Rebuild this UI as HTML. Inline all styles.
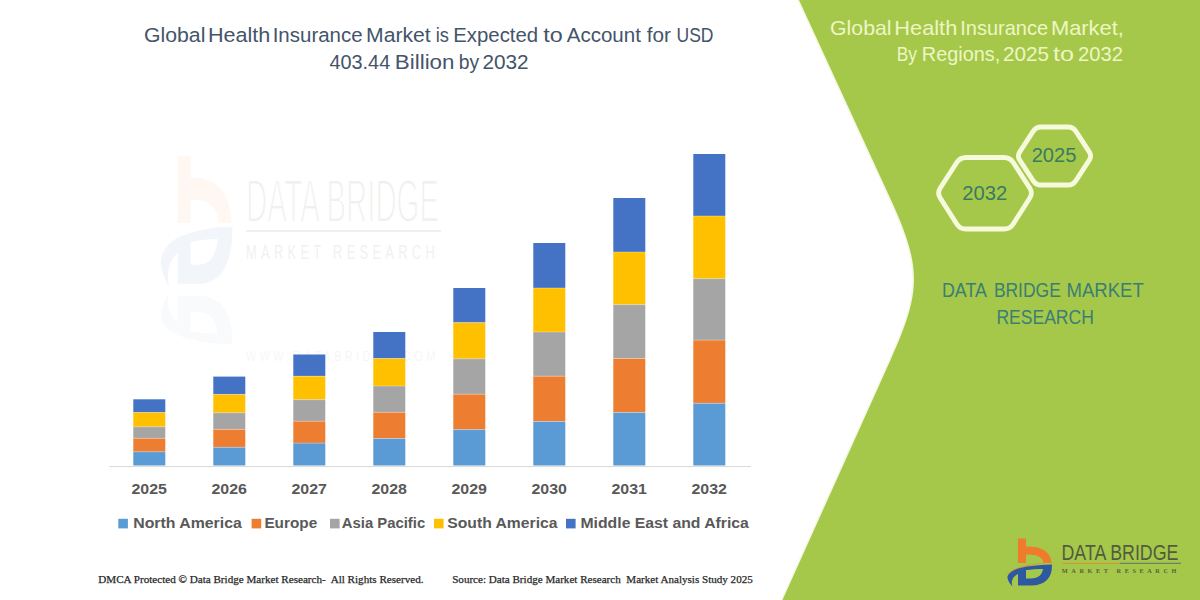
<!DOCTYPE html>
<html><head><meta charset="utf-8">
<style>
html,body{margin:0;padding:0;background:#fff;}
body{width:1200px;height:600px;overflow:hidden;position:relative;}
svg{display:block;position:absolute;left:0;top:0;}
text{font-family:"Liberation Sans",sans-serif;}
.serif{font-family:"Liberation Serif",serif;}
</style></head><body>
<svg width="1200" height="600" viewBox="0 0 1200 600">
<rect width="1200" height="600" fill="#ffffff"/>
<!-- green panel -->
<path d="M799 0 L891 200 C922.3 268 921.1 292 890.5 360 L782.5 600" fill="none" stroke="#f3f8e2" stroke-width="3"/>
<path d="M799 0 L1200 0 L1200 600 L782.5 600 L890.5 360 C921.1 292 922.3 268 891 200 Z" fill="#a6c84a"/>

<!-- watermark -->
<g opacity="0.055">
<g transform="translate(157 156) scale(1.6 2.72) translate(-1005 -538.5)">
<path d="M1018 538.5 L1026 538.5 L1026 546.5 C1042 546 1051 552 1051.5 563 L1043.5 563 C1043 557 1037 554.5 1026 554.5 L1026 563 L1018 563 Z" fill="#ef7b2d"/>
<path d="M1052 564.5 C1052.5 578 1045 585.5 1031 585.5 L1018 585.5 L1018 568.5 C1030 565.5 1042 564.5 1052 564.5 Z M1026 570 L1026 578.5 L1031 578.5 C1038 578.5 1042 575 1043 569 C1037 569 1031 569.5 1026 570 Z" fill="#2e58a0" fill-rule="evenodd"/>
<path d="M1018 568.5 C1011 571 1007 574.5 1007.5 578 C1008 581 1010 584 1012.5 586.5 C1011 582 1012 577 1018 574 Z" fill="#2e58a0"/>
</g>
<g transform="translate(157 404) scale(1.6 -2.3) translate(-1005 -538.5)" opacity="0.5">
<path d="M1052 564.5 C1052.5 578 1045 585.5 1031 585.5 L1018 585.5 L1018 568.5 C1030 565.5 1042 564.5 1052 564.5 Z M1026 570 L1026 578.5 L1031 578.5 C1038 578.5 1042 575 1043 569 C1037 569 1031 569.5 1026 570 Z" fill="#2e58a0" fill-rule="evenodd"/>
<path d="M1018 568.5 C1011 571 1007 574.5 1007.5 578 C1008 581 1010 584 1012.5 586.5 C1011 582 1012 577 1018 574 Z" fill="#2e58a0"/>
</g>
<text x="246" y="222.4" font-size="62" fill="#000" stroke="#fff" stroke-width="2" textLength="193" lengthAdjust="spacingAndGlyphs">DATA BRIDGE</text>
<line x1="246" y1="231" x2="441" y2="231" stroke="#000" stroke-width="2"/>
<text x="246" y="259" font-size="21" fill="#000" letter-spacing="7" textLength="193" lengthAdjust="spacingAndGlyphs">MARKET RESEARCH</text>
<text x="246" y="361" font-size="15" fill="#000" letter-spacing="5" textLength="193" lengthAdjust="spacingAndGlyphs" opacity="0.6">WWW.DATABRIDGE.COM</text>
</g>
<!-- title -->
<g fill="#44546a" font-size="20.5">
<text x="144.0" y="42" textLength="61.37" lengthAdjust="spacingAndGlyphs">Global</text><text x="208.0" y="42" textLength="62.36" lengthAdjust="spacingAndGlyphs">Health</text><text x="272.7" y="42" textLength="89.9" lengthAdjust="spacingAndGlyphs">Insurance</text><text x="366.0" y="42" textLength="64.68" lengthAdjust="spacingAndGlyphs">Market</text><text x="435.7" y="42" textLength="13.2" lengthAdjust="spacingAndGlyphs">is</text><text x="453.3" y="42" textLength="84.86" lengthAdjust="spacingAndGlyphs">Expected</text><text x="543.3" y="42" textLength="19.46" lengthAdjust="spacingAndGlyphs">to</text><text x="566.7" y="42" textLength="74.2" lengthAdjust="spacingAndGlyphs">Account</text><text x="646.7" y="42" textLength="24.2" lengthAdjust="spacingAndGlyphs">for</text><text x="676.5" y="42" textLength="37.0" lengthAdjust="spacingAndGlyphs">USD</text>
<text x="329.4" y="68.8" textLength="60.8" lengthAdjust="spacingAndGlyphs">403.44</text><text x="394.8" y="68.8" textLength="59.69" lengthAdjust="spacingAndGlyphs">Billion</text><text x="458.8" y="68.8" textLength="20.35" lengthAdjust="spacingAndGlyphs">by</text><text x="482.4" y="68.8" textLength="46.19" lengthAdjust="spacingAndGlyphs">2032</text>
</g>

<!-- bars -->
<rect x="133.3" y="399.3" width="32" height="13.2" fill="#4472c4"/>
<rect x="133.3" y="412.5" width="32" height="14.3" fill="#ffc000"/>
<rect x="133.3" y="426.8" width="32" height="11.5" fill="#a5a5a5"/>
<rect x="133.3" y="438.3" width="32" height="13.5" fill="#ed7d31"/>
<rect x="133.3" y="451.8" width="32" height="13.7" fill="#5b9bd5"/>
<rect x="133.3" y="412.0" width="32" height="1" fill="#fff" fill-opacity="0.3"/>
<rect x="133.3" y="426.3" width="32" height="1" fill="#fff" fill-opacity="0.3"/>
<rect x="133.3" y="437.8" width="32" height="1" fill="#fff" fill-opacity="0.3"/>
<rect x="133.3" y="451.3" width="32" height="1" fill="#fff" fill-opacity="0.3"/>
<rect x="213.3" y="376.6" width="32" height="17.8" fill="#4472c4"/>
<rect x="213.3" y="394.4" width="32" height="18.4" fill="#ffc000"/>
<rect x="213.3" y="412.8" width="32" height="16.6" fill="#a5a5a5"/>
<rect x="213.3" y="429.4" width="32" height="17.9" fill="#ed7d31"/>
<rect x="213.3" y="447.3" width="32" height="18.2" fill="#5b9bd5"/>
<rect x="213.3" y="393.9" width="32" height="1" fill="#fff" fill-opacity="0.3"/>
<rect x="213.3" y="412.3" width="32" height="1" fill="#fff" fill-opacity="0.3"/>
<rect x="213.3" y="428.9" width="32" height="1" fill="#fff" fill-opacity="0.3"/>
<rect x="213.3" y="446.8" width="32" height="1" fill="#fff" fill-opacity="0.3"/>
<rect x="293.3" y="354.5" width="32" height="21.7" fill="#4472c4"/>
<rect x="293.3" y="376.2" width="32" height="23.5" fill="#ffc000"/>
<rect x="293.3" y="399.7" width="32" height="21.5" fill="#a5a5a5"/>
<rect x="293.3" y="421.2" width="32" height="21.9" fill="#ed7d31"/>
<rect x="293.3" y="443.1" width="32" height="22.4" fill="#5b9bd5"/>
<rect x="293.3" y="375.7" width="32" height="1" fill="#fff" fill-opacity="0.3"/>
<rect x="293.3" y="399.2" width="32" height="1" fill="#fff" fill-opacity="0.3"/>
<rect x="293.3" y="420.7" width="32" height="1" fill="#fff" fill-opacity="0.3"/>
<rect x="293.3" y="442.6" width="32" height="1" fill="#fff" fill-opacity="0.3"/>
<rect x="373.3" y="332.0" width="32" height="26.5" fill="#4472c4"/>
<rect x="373.3" y="358.5" width="32" height="27.5" fill="#ffc000"/>
<rect x="373.3" y="386.0" width="32" height="26.3" fill="#a5a5a5"/>
<rect x="373.3" y="412.3" width="32" height="26.2" fill="#ed7d31"/>
<rect x="373.3" y="438.5" width="32" height="27.0" fill="#5b9bd5"/>
<rect x="373.3" y="358.0" width="32" height="1" fill="#fff" fill-opacity="0.3"/>
<rect x="373.3" y="385.5" width="32" height="1" fill="#fff" fill-opacity="0.3"/>
<rect x="373.3" y="411.8" width="32" height="1" fill="#fff" fill-opacity="0.3"/>
<rect x="373.3" y="438.0" width="32" height="1" fill="#fff" fill-opacity="0.3"/>
<rect x="453.3" y="288.0" width="32" height="34.6" fill="#4472c4"/>
<rect x="453.3" y="322.6" width="32" height="36.2" fill="#ffc000"/>
<rect x="453.3" y="358.8" width="32" height="35.4" fill="#a5a5a5"/>
<rect x="453.3" y="394.2" width="32" height="35.4" fill="#ed7d31"/>
<rect x="453.3" y="429.6" width="32" height="35.9" fill="#5b9bd5"/>
<rect x="453.3" y="322.1" width="32" height="1" fill="#fff" fill-opacity="0.3"/>
<rect x="453.3" y="358.3" width="32" height="1" fill="#fff" fill-opacity="0.3"/>
<rect x="453.3" y="393.7" width="32" height="1" fill="#fff" fill-opacity="0.3"/>
<rect x="453.3" y="429.1" width="32" height="1" fill="#fff" fill-opacity="0.3"/>
<rect x="533.3" y="243.0" width="32" height="45.0" fill="#4472c4"/>
<rect x="533.3" y="288.0" width="32" height="44.0" fill="#ffc000"/>
<rect x="533.3" y="332.0" width="32" height="44.2" fill="#a5a5a5"/>
<rect x="533.3" y="376.2" width="32" height="45.3" fill="#ed7d31"/>
<rect x="533.3" y="421.5" width="32" height="44.0" fill="#5b9bd5"/>
<rect x="533.3" y="287.5" width="32" height="1" fill="#fff" fill-opacity="0.3"/>
<rect x="533.3" y="331.5" width="32" height="1" fill="#fff" fill-opacity="0.3"/>
<rect x="533.3" y="375.7" width="32" height="1" fill="#fff" fill-opacity="0.3"/>
<rect x="533.3" y="421.0" width="32" height="1" fill="#fff" fill-opacity="0.3"/>
<rect x="613.3" y="198.0" width="32" height="54.0" fill="#4472c4"/>
<rect x="613.3" y="252.0" width="32" height="52.7" fill="#ffc000"/>
<rect x="613.3" y="304.7" width="32" height="53.8" fill="#a5a5a5"/>
<rect x="613.3" y="358.5" width="32" height="54.0" fill="#ed7d31"/>
<rect x="613.3" y="412.5" width="32" height="53.0" fill="#5b9bd5"/>
<rect x="613.3" y="251.5" width="32" height="1" fill="#fff" fill-opacity="0.3"/>
<rect x="613.3" y="304.2" width="32" height="1" fill="#fff" fill-opacity="0.3"/>
<rect x="613.3" y="358.0" width="32" height="1" fill="#fff" fill-opacity="0.3"/>
<rect x="613.3" y="412.0" width="32" height="1" fill="#fff" fill-opacity="0.3"/>
<rect x="693.3" y="154.0" width="32" height="62.0" fill="#4472c4"/>
<rect x="693.3" y="216.0" width="32" height="62.7" fill="#ffc000"/>
<rect x="693.3" y="278.7" width="32" height="61.4" fill="#a5a5a5"/>
<rect x="693.3" y="340.1" width="32" height="63.2" fill="#ed7d31"/>
<rect x="693.3" y="403.3" width="32" height="62.2" fill="#5b9bd5"/>
<rect x="693.3" y="215.5" width="32" height="1" fill="#fff" fill-opacity="0.3"/>
<rect x="693.3" y="278.2" width="32" height="1" fill="#fff" fill-opacity="0.3"/>
<rect x="693.3" y="339.6" width="32" height="1" fill="#fff" fill-opacity="0.3"/>
<rect x="693.3" y="402.8" width="32" height="1" fill="#fff" fill-opacity="0.3"/>
<line x1="109" y1="466.6" x2="751" y2="466.6" stroke="#d9d9d9" stroke-width="1"/>

<!-- years -->
<g fill="#595959" font-size="14.5" font-weight="bold">
<text x="131.48" y="494" textLength="35.51" lengthAdjust="spacingAndGlyphs">2025</text><text x="211.48" y="494" textLength="35.51" lengthAdjust="spacingAndGlyphs">2026</text><text x="291.48" y="494" textLength="35.51" lengthAdjust="spacingAndGlyphs">2027</text><text x="371.48" y="494" textLength="35.51" lengthAdjust="spacingAndGlyphs">2028</text><text x="451.48" y="494" textLength="35.51" lengthAdjust="spacingAndGlyphs">2029</text><text x="531.48" y="494" textLength="35.51" lengthAdjust="spacingAndGlyphs">2030</text><text x="611.48" y="494" textLength="35.51" lengthAdjust="spacingAndGlyphs">2031</text><text x="691.48" y="494" textLength="35.51" lengthAdjust="spacingAndGlyphs">2032</text>
</g>

<!-- legend -->
<g font-size="14.5" font-weight="bold" fill="#595959">
<rect x="118.3" y="518.8" width="9.6" height="9.6" fill="#5b9bd5"/>
<rect x="251.6" y="518.8" width="9.6" height="9.6" fill="#ed7d31"/>
<rect x="330" y="518.8" width="9.6" height="9.6" fill="#a5a5a5"/>
<rect x="434" y="518.8" width="9.6" height="9.6" fill="#ffc000"/>
<rect x="566" y="518.8" width="9.6" height="9.6" fill="#4472c4"/>
<text x="133.2" y="528" textLength="108.62" lengthAdjust="spacingAndGlyphs">North America</text><text x="264.4" y="528" textLength="52.84" lengthAdjust="spacingAndGlyphs">Europe</text><text x="341.79" y="528" textLength="83.42" lengthAdjust="spacingAndGlyphs">Asia Pacific</text><text x="447.3" y="528" textLength="110.19" lengthAdjust="spacingAndGlyphs">South America</text><text x="580.5" y="528" textLength="168.38" lengthAdjust="spacingAndGlyphs">Middle East and Africa</text>
</g>

<!-- footer -->
<g fill="#222" font-size="10.5" class="serif" stroke="#333" stroke-width="0.25">
<text class="serif" x="98.3" y="582.6" textLength="325.19" lengthAdjust="spacingAndGlyphs" xml:space="preserve">DMCA Protected © Data Bridge Market Research-  All Rights Reserved.</text><text class="serif" x="452.2" y="582.6" textLength="300.59" lengthAdjust="spacingAndGlyphs" xml:space="preserve">Source: Data Bridge Market Research  Market Analysis Study 2025</text>
</g>

<!-- right header -->
<g fill="#edf6c4" font-size="19.8">
<text x="830.0" y="34.6" textLength="61.57" lengthAdjust="spacingAndGlyphs">Global</text><text x="894.3" y="34.6" textLength="63.0" lengthAdjust="spacingAndGlyphs">Health</text><text x="960.3" y="34.6" textLength="87.81" lengthAdjust="spacingAndGlyphs">Insurance</text><text x="1051.0" y="34.6" textLength="72.82" lengthAdjust="spacingAndGlyphs">Market,</text>
<text x="896.67" y="61.2" textLength="20.27" lengthAdjust="spacingAndGlyphs">By</text><text x="921.85" y="61.2" textLength="78.34" lengthAdjust="spacingAndGlyphs">Regions,</text><text x="1003.0" y="61.2" textLength="45.96" lengthAdjust="spacingAndGlyphs">2025</text><text x="1053.0" y="61.2" textLength="21.0" lengthAdjust="spacingAndGlyphs">to</text><text x="1078.0" y="61.2" textLength="44.91" lengthAdjust="spacingAndGlyphs">2032</text>
</g>

<!-- hexagons -->
<g fill="none" stroke="#f6fadc" stroke-width="4.8" stroke-linejoin="round">
<path d="M940.23 198.06 Q937.00 193.00 940.26 187.96 L956.74 162.54 Q960.00 157.50 966.00 157.50 L1004.00 157.50 Q1010.00 157.50 1013.26 162.54 L1029.74 187.96 Q1033.00 193.00 1029.77 198.06 L1013.23 223.94 Q1010.00 229.00 1004.00 229.00 L966.00 229.00 Q960.00 229.00 956.77 223.94 Z"/>
<path d="M1019.74 160.18 Q1017.00 156.00 1019.74 151.82 L1033.26 131.18 Q1036.00 127.00 1041.00 127.00 L1068.00 127.00 Q1073.00 127.00 1075.74 131.18 L1089.26 151.82 Q1092.00 156.00 1089.26 160.18 L1075.74 180.82 Q1073.00 185.00 1068.00 185.00 L1041.00 185.00 Q1036.00 185.00 1033.26 180.82 Z"/>
</g>
<g fill="#3a7b60" font-size="19.5">
<text x="962.3" y="200" textLength="44.92" lengthAdjust="spacingAndGlyphs">2032</text><text x="1031.7" y="162" textLength="44.71" lengthAdjust="spacingAndGlyphs">2025</text>
</g>

<!-- DBMR text -->
<g fill="#3a7e74" font-size="20.5">
<text x="941.99" y="296.7" textLength="44.89" lengthAdjust="spacingAndGlyphs">DATA</text><text x="993.88" y="296.7" textLength="66.93" lengthAdjust="spacingAndGlyphs">BRIDGE</text><text x="1066.52" y="296.7" textLength="77.3" lengthAdjust="spacingAndGlyphs">MARKET</text>
<text x="996.38" y="323.7" textLength="97.53" lengthAdjust="spacingAndGlyphs">RESEARCH</text>
</g>

<!-- logo -->
<g>
<path d="M1018 538.5 L1026 538.5 L1026 546.5 C1042 546 1051 552 1051.5 563 L1043.5 563 C1043 557 1037 554.5 1026 554.5 L1026 563 L1018 563 Z" fill="#ef7b2d"/>
<path d="M1005 575 C1015 566 1035 562.5 1055 562.5 C1035 563.5 1014 568 1005 575 Z" fill="#e88a3a"/>
<path d="M1052 564.5 C1052.5 578 1045 585.5 1031 585.5 L1018 585.5 L1018 568.5 C1030 565.5 1042 564.5 1052 564.5 Z M1026 570 L1026 578.5 L1031 578.5 C1038 578.5 1042 575 1043 569 C1037 569 1031 569.5 1026 570 Z" fill="#2e58a0" fill-rule="evenodd"/>
<path d="M1018 568.5 C1011 571 1007 574.5 1007.5 578 C1008 581 1010 584 1012.5 586.5 C1011 582 1012 577 1018 574 Z" fill="#2e58a0"/>
<text x="1061.52" y="560" font-size="21.5" fill="#505c3e" textLength="116.88" lengthAdjust="spacingAndGlyphs">DATA BRIDGE</text>
<line x1="1062" y1="563.4" x2="1120" y2="563.4" stroke="#d09a40" stroke-width="1.4"/>
<line x1="1120" y1="563.4" x2="1181" y2="563.4" stroke="#6f8060" stroke-width="1.4"/>
<text x="1061.8" y="573.4" font-size="7" font-weight="bold" fill="#56623f" letter-spacing="4" textLength="118.22" lengthAdjust="spacingAndGlyphs" class="serif">MARKET RESEARCH</text>
</g>

</svg>
</body></html>
